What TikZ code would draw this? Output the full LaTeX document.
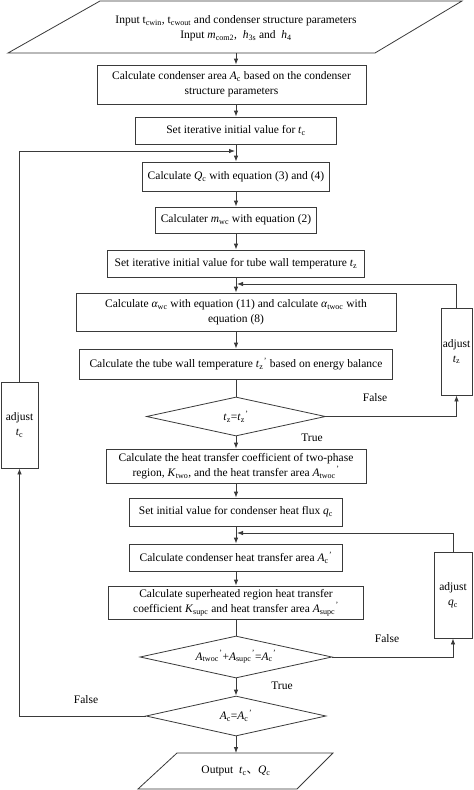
\documentclass[tikz,border=0pt]{standalone}
\usepackage{fontspec}
\setmainfont{Liberation Serif}
\newfontfamily\cjk{Noto Sans CJK SC}
\usetikzlibrary{arrows.meta,shapes.geometric}
\newcommand{\ssub}[1]{\textsubscript{#1}}
\newcommand{\ssup}[1]{\textsuperscript{#1}}
\newcommand{\pr}{\textsuperscript{\kern0.5pt'}}
\definecolor{ln}{HTML}{3A3A3A}
\tikzset{
  box/.style={draw=ln, line width=0.8pt, fill=white, inner sep=0pt, align=center, font=\fontsize{11.5}{15}\selectfont},
  dia/.style={diamond, draw=ln, line width=0.8pt, fill=white, inner sep=0pt},
  lbl/.style={font=\fontsize{11.5}{13}\selectfont, inner sep=0pt},
  arr/.style={draw=ln, line width=0.8pt, -{Latex[length=6pt,width=4.5pt]}},
  ln/.style={draw=ln, line width=0.8pt},
}
\begin{document}
\begin{tikzpicture}[x=1pt,y=-1pt]
\useasboundingbox (0,0) rectangle (474,790);
\fill[white] (0,0) rectangle (474,790);
% input parallelogram
\draw[ln, fill=white] (100,1) -- (462,1) -- (375,53) -- (8,53) -- cycle;
\node[lbl, align=center, font=\fontsize{11.5}{15}\selectfont] (in) at (236,28)
 {Input t\ssub{cwin}, t\ssub{cwout} and condenser structure parameters\\Input \textit{m}\ssub{com2},\ \ \textit{h}\ssub{3s}\ and\ \ \textit{h}\ssub{4}};
\coordinate (inB) at (236,53);
% boxes
\node[box, minimum width=269pt, minimum height=39pt] (b2) at (231.5,84.5)
 {Calculate condenser area \textit{A}\ssub{c} based on the condenser\\structure parameters};
\node[box, minimum width=201pt, minimum height=27pt] (b3) at (236,130.5)
 {Set iterative initial value for \textit{t}\ssub{c}};
\node[box, minimum width=187pt, minimum height=29pt] (b4) at (236,176.5)
 {Calculate \textit{Q}\ssub{c} with equation (3) and (4)};
\node[box, minimum width=161pt, minimum height=26pt] (b5) at (236,220)
 {Calculater \textit{m}\ssub{wc} with equation (2)};
\node[box, minimum width=257pt, minimum height=27pt] (b6) at (236,263.5)
 {Set iterative initial value for tube wall temperature \textit{t}\ssub{z}};
\node[box, minimum width=320pt, minimum height=38pt] (b7) at (236,312)
 {Calculate \textit{α}\ssub{wc} with equation (11) and calculate \textit{α}\ssub{twoc} with\\equation (8)};
\node[box, minimum width=313pt, minimum height=30pt] (b8) at (236,364)
 {Calculate the tube wall temperature \textit{t}\ssub{z}\pr\ based on energy balance};
\node[dia, minimum width=179pt, minimum height=39pt] (d1) at (236,416.5) {};
\node[lbl] (d1t) at (d1) {\textit{t}\ssub{z}=\textit{t}\ssub{z}\pr};
\node[box, minimum width=260pt, minimum height=34pt] (b9) at (236,466)
 {Calculate the heat transfer coefficient of two-phase\\region, \textit{K}\ssub{two}, and the heat transfer area \textit{A}\ssub{twoc}\pr};
\node[box, minimum width=213pt, minimum height=28pt] (b10) at (236,512)
 {Set initial value for condenser heat flux \textit{q}\ssub{c}};
\node[box, minimum width=213pt, minimum height=27pt] (b11) at (236,557.5)
 {Calculate condenser heat transfer area \textit{A}\ssub{c}\pr};
\node[box, minimum width=255pt, minimum height=33pt] (b12) at (236,602.5)
 {Calculate superheated region heat transfer\\coefficient \textit{K}\ssub{supc} and heat transfer area \textit{A}\ssub{supc}\pr};
\node[dia, minimum width=192pt, minimum height=42pt] (d2) at (236,657) {};
\node[lbl] (d2t) at (d2) {\textit{A}\ssub{twoc}\pr+\textit{A}\ssub{supc}\pr=\textit{A}\ssub{c}\pr};
\node[dia, minimum width=180pt, minimum height=40pt] (d3) at (236,716) {};
\node[lbl] (d3t) at (d3) {\textit{A}\ssub{c}=\textit{A}\ssub{c}\pr};
% output parallelogram
\draw[ln, fill=white] (177,753) -- (333,753) -- (297,789) -- (138,789) -- cycle;
\node[lbl] (out) at (236,771) {Output\ \ \textit{t}\ssub{c}{\cjk 、}\textit{Q}\ssub{c}};
\coordinate (outT) at (236,753);
% adjust boxes
\node[box, minimum width=31pt, minimum height=87pt] (az) at (456.5,351.5) {adjust\\\textit{t}\ssub{z}};
\node[box, minimum width=38pt, minimum height=86pt] (aq) at (453,595) {adjust\\\textit{q}\ssub{c}};
\node[box, minimum width=37pt, minimum height=86pt] (at) at (19.5,425) {adjust\\\textit{t}\ssub{c}};
% junctions
\coordinate (j1) at (236,151);
\coordinate (j2) at (236,284);
\coordinate (j3) at (236,533);
% main flow
\draw[arr] (inB) -- (inB |- b2.north);
\draw[arr] (b2.south -| b3.north) -- (b3.north);
\draw[arr] (b3.south) -- (b4.north);
\draw[arr] (b4.south) -- (b5.north);
\draw[arr] (b5.south) -- (b6.north);
\draw[arr] (b6.south) -- (b7.north);
\draw[arr] (b7.south) -- (b8.north);
\draw[ln] (b8.south) -- (d1.north);
\draw[arr] (d1.south) -- (b9.north);
\draw[arr] (b9.south) -- (b10.north);
\draw[arr] (b10.south) -- (b11.north);
\draw[arr] (b11.south) -- (b12.north);
\draw[ln] (b12.south) -- (d2.north);
\draw[arr] (d2.south) -- (d3.north);
\draw[arr] (d3.south) -- (outT);
% loops
\draw[arr] (at.north) |- ([xshift=-1pt]j1);
\draw[arr] (az.north) |- ([xshift=1pt]j2);
\draw[arr] (aq.north) |- ([xshift=1pt]j3);
\draw[arr] (d1.east) -| (az.south);
\draw[arr] (d2.east) -| (aq.south);
\draw[arr] (d3.west) -| (at.south);
% labels
\node[lbl] (f1) at (375,398) {False};
\node[lbl] (t1) at (312,438) {True};
\node[lbl] (f2) at (387,639) {False};
\node[lbl] (t2) at (282,686) {True};
\node[lbl] (f3) at (86,700) {False};
\end{tikzpicture}
\end{document}
